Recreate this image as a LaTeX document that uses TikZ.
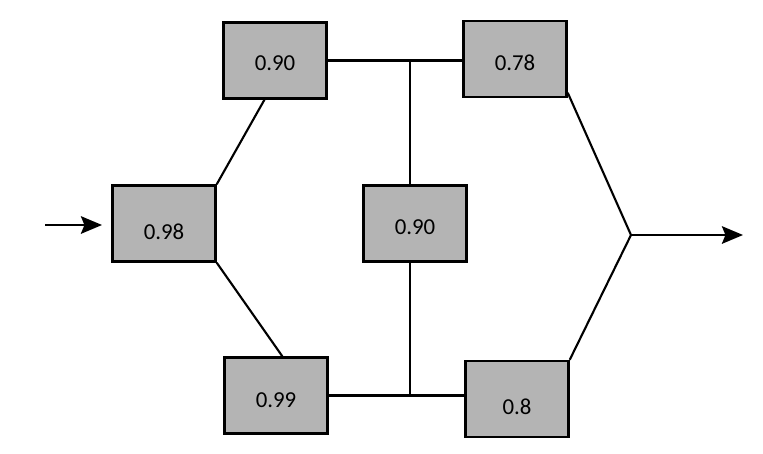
\documentclass[tikz,border=0pt]{standalone}
\usepackage{fontspec}
\setmainfont{Carlito}
\usetikzlibrary{arrows.meta,calc}
\definecolor{boxgray}{RGB}{180,180,180}
\newcommand{\lowered}[2]{\raisebox{#1}[0pt][0pt]{#2}}
\tikzset{
  unit/.style={draw,line width=1.4pt,fill=boxgray,minimum width=2.06cm,minimum height=1.52cm,inner sep=0pt,font=\fontsize{13}{15}\selectfont},
  wire/.style={line width=1.2pt},
  flow/.style={wire,-{Stealth[length=12pt,width=10pt,inset=2pt]}}
}
\begin{document}
\begin{tikzpicture}[x=0.02cm,y=-0.02cm]
\useasboundingbox (0,0) rectangle (763,453);

\node[unit] (a) at (164,223.5) {\lowered{-8.9pt}{0.98}};
\node[unit] (b1) at (275,60.5) {\lowered{-5.5pt}{0.90}};
\node[unit] (b2) at (276,395.5) {\lowered{-6.7pt}{0.99}};
\node[unit] (m) at (415,223.5) {\lowered{-6.1pt}{0.90}};
\node[unit] (c1) at (515,59) {\lowered{-6.4pt}{0.78}};
\node[unit] (c2) at (517,399) {\lowered{-8.6pt}{0.8}};

\coordinate (in) at (45,225);
\coordinate (tip) at (102,225);
\coordinate (j) at (631,235);
\coordinate (out) at (743,235);

\draw[flow] (in) -- (tip);
\draw[wire] (a.north east) -- ($(b1.south west)!0.4!(b1.south east)$);
\draw[wire] (a.south east) -- ($(b2.north west)!0.56!(b2.north east)$);

\draw[wire] (b1.east) -- (b1.east -| c1.west);
\draw[wire] (b2.east) -- (b2.east -| c2.west);
\coordinate (jt) at (410,60.5);
\coordinate (jb) at (410,395.5);
\draw[wire] (jt) -- (jt |- m.north);
\draw[wire] (jb) -- (jb |- m.south);

\draw[wire] ($(c1.north east)!0.93!(c1.south east)$) -- (j);
\draw[wire] (c2.north east) -- (j);
\draw[flow] (j) -- (out);
\end{tikzpicture}
\end{document}
